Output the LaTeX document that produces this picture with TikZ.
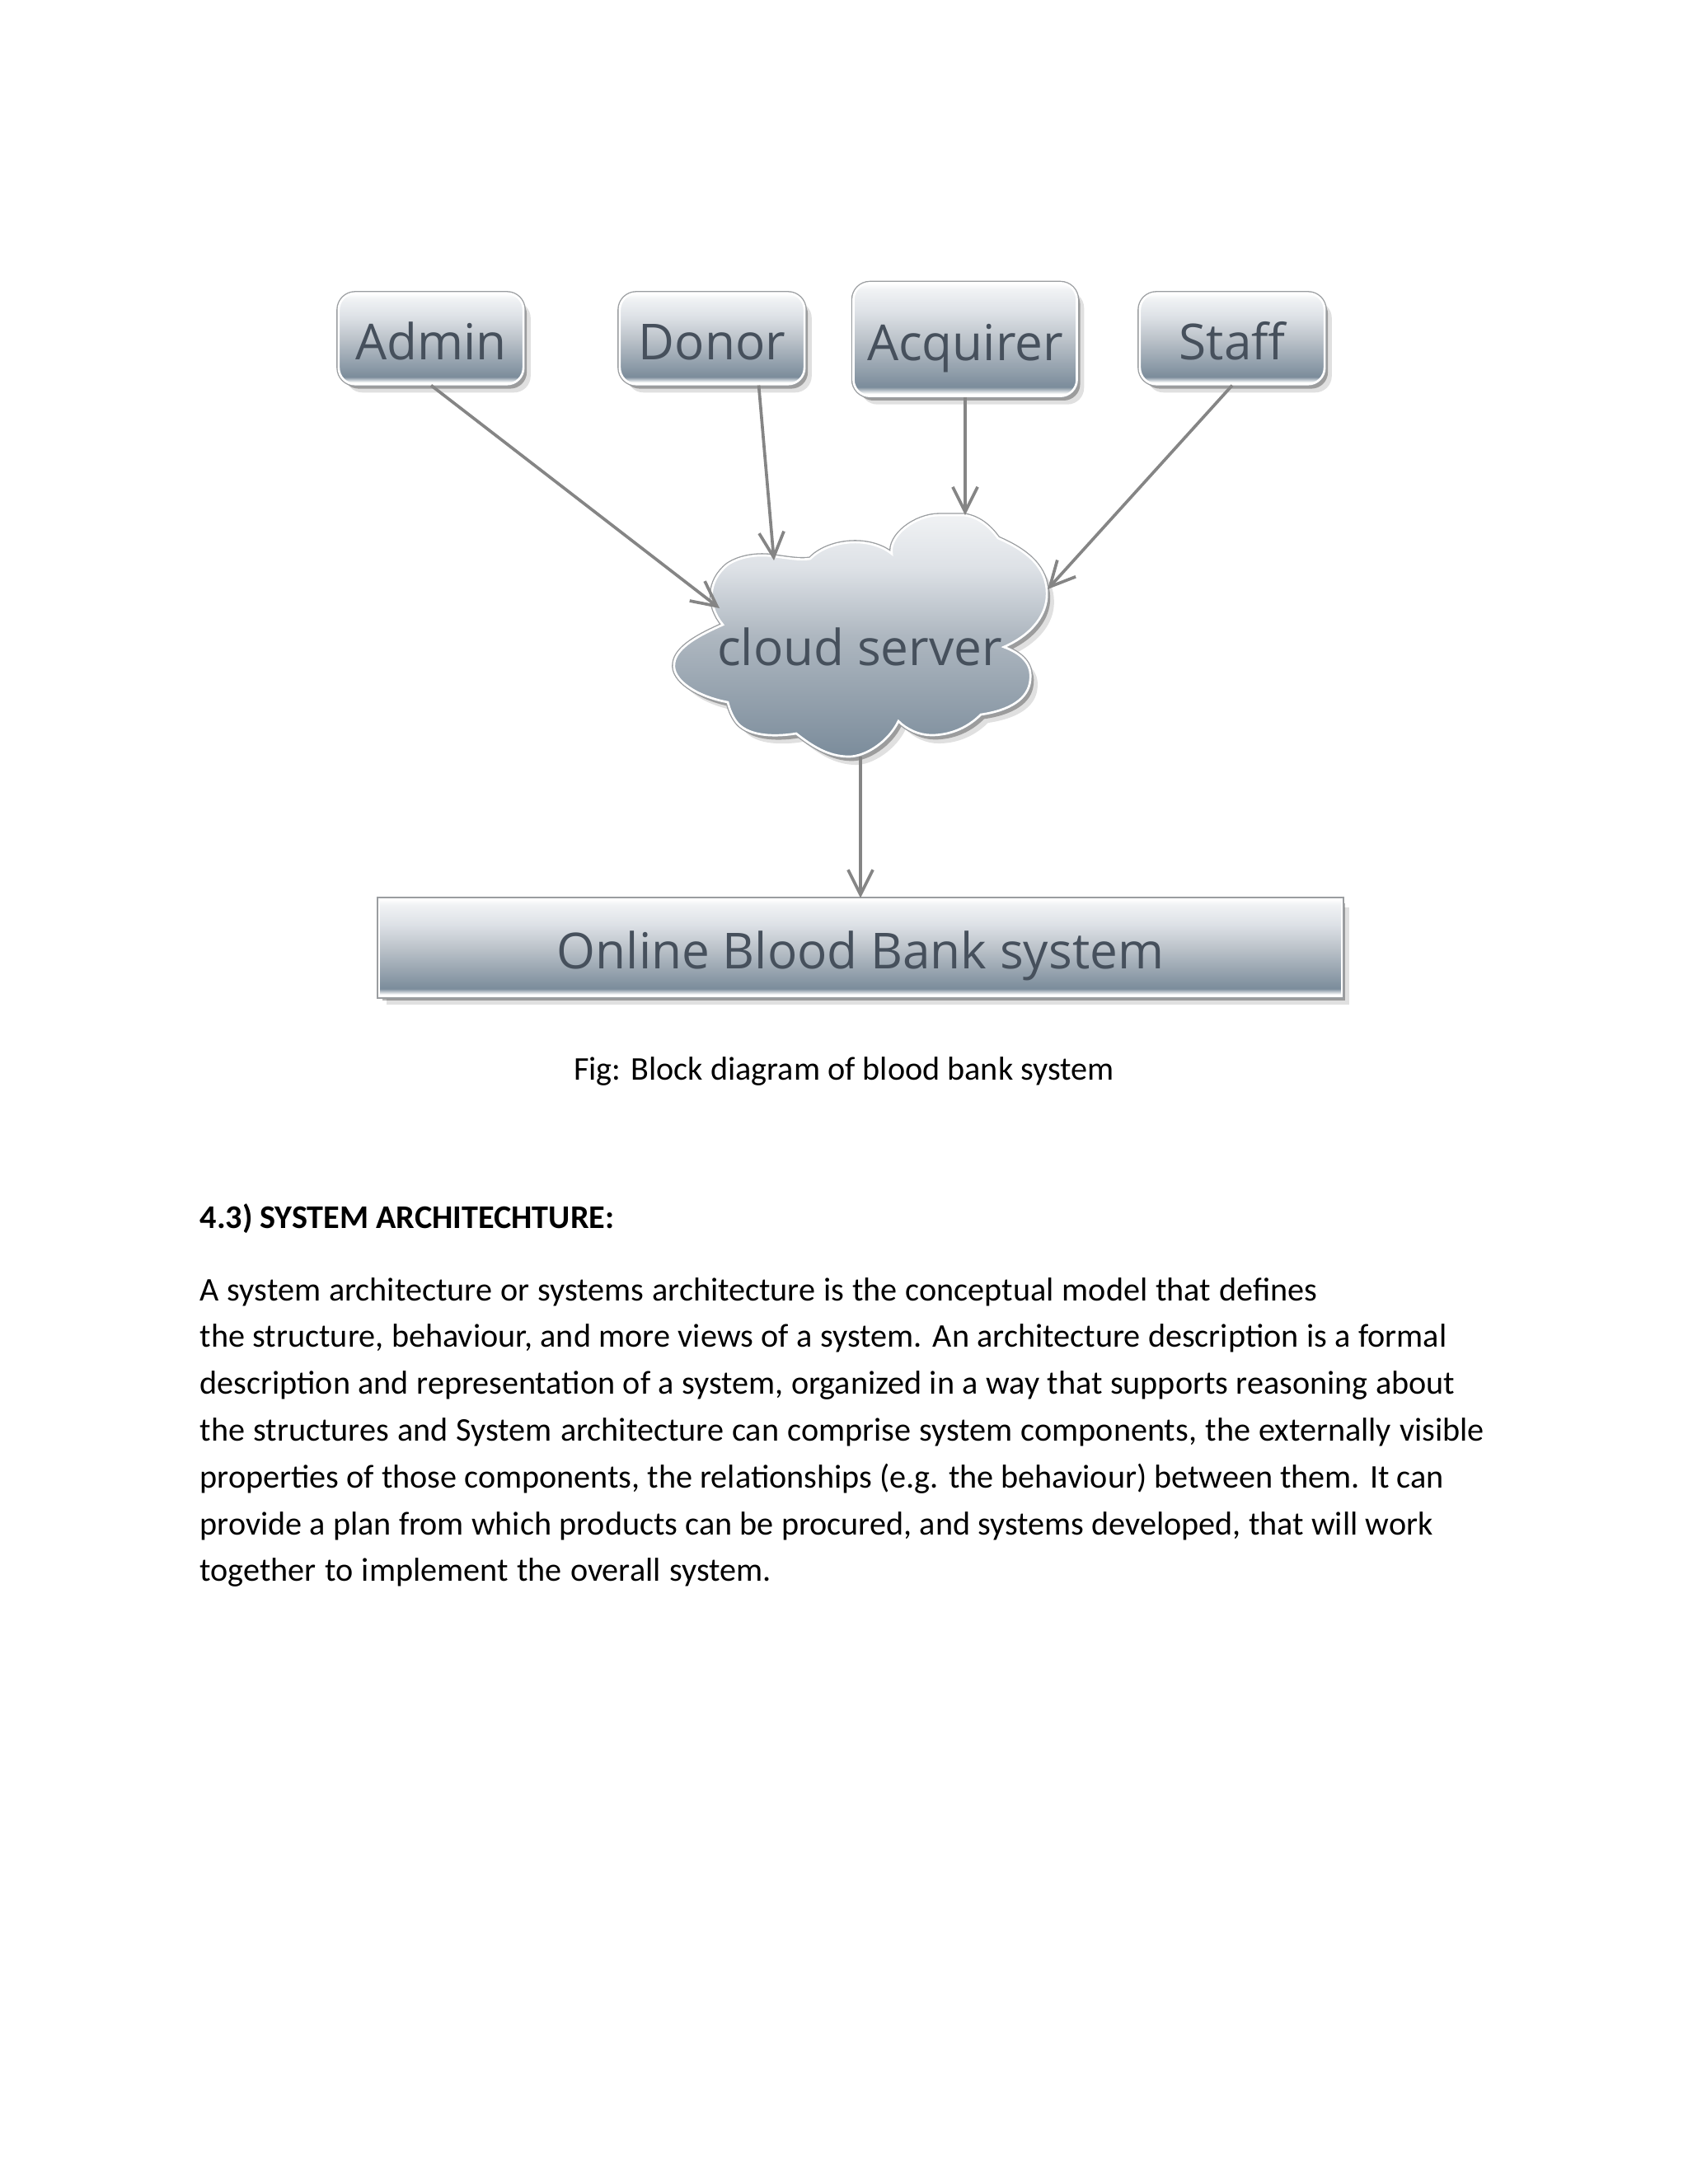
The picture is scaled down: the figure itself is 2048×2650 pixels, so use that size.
\documentclass[tikz,border=0pt]{standalone}
\usepackage{fontspec}
\setmainfont{Carlito}
\newfontfamily\labelfont{Open Sans}
\usetikzlibrary{arrows.meta,shadows}
\definecolor{glassink}{HTML}{46505C}
\definecolor{wiregray}{HTML}{858585}
\definecolor{rimgray}{HTML}{9A9DA0}
\definecolor{glassa}{HTML}{7B8C9B}
\definecolor{glassb}{HTML}{BCC3CA}
\definecolor{glassc}{HTML}{DDE1E6}
\definecolor{glassd}{HTML}{F0F2F4}
\definecolor{cloudb}{HTML}{AEB7C0}
\pgfdeclareverticalshading{glassfill}{100bp}{
  color(0bp)=(white); color(26bp)=(white);
  color(29bp)=(glassa); color(50bp)=(glassb); color(62bp)=(glassc); color(72bp)=(glassd); color(75bp)=(white); color(100bp)=(white)}
\pgfdeclareverticalshading{cloudfill}{100bp}{
  color(0bp)=(glassa); color(25bp)=(glassa); color(50bp)=(cloudb); color(64bp)=(glassc); color(75bp)=(glassd); color(100bp)=(glassd)}
\tikzset{
  glass/.style={general shadow={shadow xshift=2.6pt,shadow yshift=-3pt,fill=black,opacity=.12},
    general shadow={shadow xshift=1.2pt,shadow yshift=-1.6pt,fill=black,opacity=.3},
    preaction={draw=rimgray,line width=1.6pt},draw=white,line width=.8pt},
  glassbox/.style={glass,shading=glassfill,rounded corners=6pt,minimum width=67pt,minimum height=33pt,inner sep=0pt,
    labeltext},
  labeltext/.style={text=glassink,font=\labelfont\fontsize{18}{20}\selectfont,text height=15.2pt,text depth=0pt},
  wire/.style={draw=wiregray,line width=1.1pt,-{Straight Barb[length=9pt,width=9pt]}},
  pagetext/.style={anchor=base west,inner sep=0pt,font=\fontsize{12}{14}\selectfont}
}
\newcommand{\cloudoutline}{
  (877,758) .. controls (858,735) and (858,705) .. (883,685)
  .. controls (898,675) and (920,672) .. (939,675)
  .. controls (955,677) and (970,680) .. (983,678)
  .. controls (1005,655) and (1055,650) .. (1082,672)
  .. controls (1078,650) and (1110,625) .. (1140,625) -- (1170,625)
  .. controls (1190,628) and (1203,642) .. (1211,653)
  .. controls (1255,672) and (1272,695) .. (1270,725)
  .. controls (1268,750) and (1248,772) .. (1218,785)
  .. controls (1245,795) and (1252,810) .. (1250,825)
  .. controls (1248,848) and (1225,862) .. (1190,867)
  .. controls (1172,885) and (1150,892) .. (1130,892)
  .. controls (1115,892) and (1100,885) .. (1090,875)
  .. controls (1078,900) and (1050,918) .. (1030,918)
  .. controls (1005,918) and (985,905) .. (966,890)
  .. controls (935,895) and (905,892) .. (893,875)
  .. controls (888,868) and (885,860) .. (883,852)
  .. controls (845,845) and (815,825) .. (818,805)
  .. controls (820,785) and (850,770) .. (877,758) -- cycle}
\begin{document}
\begin{tikzpicture}[x=.2988pt,y=-.2988pt]
  \useasboundingbox (0,0) rectangle (2048,2650);
  \node[glassbox] (admin) at (523,411) {Admin};
  \node[glassbox] (donor) at (864,411) {Donor};
  \node[glassbox,minimum width=81pt,minimum height=41pt] (acquirer) at (1171,412) {Acquirer};
  \node[glassbox] (staff) at (1495,411) {Staff};
  \path[glass,shading=cloudfill] \cloudoutline;
  \node[labeltext,inner sep=0pt] (cloudsrv) at (1043,782) {cloud server};
  \coordinate (cloudA) at (873,738);
  \coordinate (cloudD) at (939,680);
  \coordinate (cloudQ) at (1171,625);
  \coordinate (cloudS) at (1271,715);
  \coordinate (cloudOut) at (1044,918);
  \node[glassbox,rounded corners=0pt,minimum width=349pt,minimum height=35.3pt] (system) at (1044,1150) {Online Blood Bank system};
  % connectors
  \draw[wire] (admin.south) -- (cloudA);
  \draw[wire] (donor.-45) -- (cloudD);
  \draw[wire] (acquirer.south) -- (cloudQ);
  \draw[wire] (staff.south) -- (cloudS);
  \draw[wire] (cloudOut) -- (system.north);
  % page text
  \node[pagetext,anchor=base] (caption) at (1024,1310) {Fig: Block diagram of blood bank system};
  \node[pagetext,font=\fontsize{12}{14}\selectfont\bfseries] (heading) at (242,1490) {4.3) SYSTEM ARCHITECHTURE:};
  \foreach \i/\w/\txt in {
    0/405/{A system architecture or systems architecture is the conceptual model that defines},
    1/452/{the structure, behaviour, and more views of a system. An architecture description is a formal},
    2/455/{description and representation of a system, organized in a way that supports reasoning about},
    3/465.6/{the structures and System architecture can comprise system components, the externally visible},
    4/451/{properties of those components, the relationships (e.g. the behaviour) between them. It can},
    5/447/{provide a plan from which products can be procured, and systems developed, that will work},
    6/207/{together to implement the overall system.}}
    \node[pagetext] (line\i) at (242,1578+56.8*\i) {\makebox[\w pt][s]{\txt}};
\end{tikzpicture}
\end{document}
